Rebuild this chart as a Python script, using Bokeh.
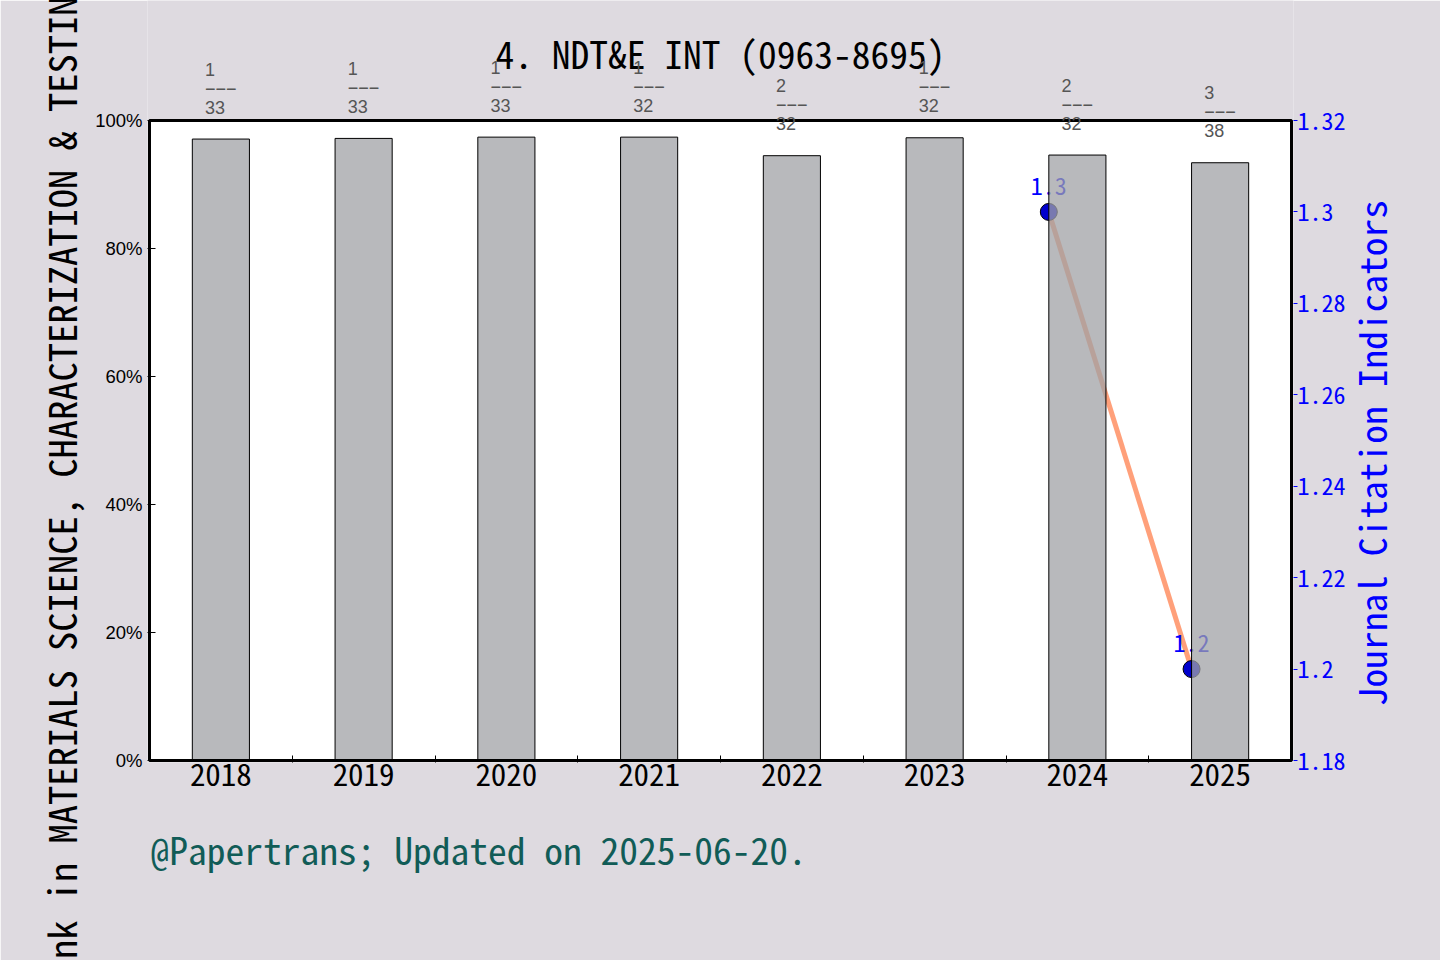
import math
from bokeh.plotting import figure
from bokeh.models import (ColumnDataSource, Range1d, LinearAxis, FixedTicker, Axis, Title,
                          PrintfTickFormatter, CustomJSTickFormatter, LabelSet, Label)
from bokeh.core.properties import value
from bokeh.embed import file_html
from bokeh.resources import INLINE

# ---- data ----
years = ["2018", "2019", "2020", "2021", "2022", "2023", "2024", "2025"]
pct = [97.1, 97.2, 97.4, 97.4, 94.5, 97.3, 94.6, 93.4]
ranks = ["1", "1", "1", "1", "2", "1", "2", "3"]
totals = ["33", "33", "33", "32", "32", "32", "32", "38"]
jci_years = ["2024", "2025"]
jci = [1.3, 1.2]
jci_labels = ["1.3", "1.2"]
pct_ticks = [0, 20, 40, 60, 80, 100]
jci_ticks = [1.18, 1.20, 1.22, 1.24, 1.26, 1.28, 1.30, 1.32]

MONO = "Noto Sans Mono CJK SC"
BG = "#dedae0"
NBSP = "\u00a0"

# ---- geometry (pixels) ----
W, H = 1440, 960
BOX_L, BOX_R, BOX_T, BOX_B = 149, 1291, 120, 760   # white plot box
PAD = 2
px_x = (BOX_R - BOX_L) / len(years)
px_y = (BOX_B - BOX_T) / (pct_ticks[-1] - pct_ticks[0])
jpp = (jci_ticks[-1] - jci_ticks[0]) / (BOX_B - BOX_T)

x_range = Range1d(-PAD / px_x, len(years) + PAD / px_x)
y_range = Range1d(pct_ticks[0] - PAD / px_y, pct_ticks[-1] + BOX_T / px_y)
j_range = Range1d(jci_ticks[0] - PAD * jpp, jci_ticks[-1] + BOX_T * jpp)

xs = [i + 0.5 for i in range(len(years))]
jx = [years.index(y) + 0.5 - 0.2 for y in jci_years]

bar_src = ColumnDataSource(dict(x=xs, top=pct, rank=ranks, total=totals,
                                dash=["\u2212\u2212\u2212"] * len(years)))
jci_src = ColumnDataSource(dict(x=jx, y=jci, label=jci_labels))

p = figure(width=W, height=H, output_backend="svg", toolbar_location=None,
           x_range=x_range, y_range=y_range,
           min_border_left=BOX_L - PAD, min_border_right=W - BOX_R - PAD,
           min_border_top=0, min_border_bottom=H - BOX_B - PAD)
p.border_fill_color = BG
p.background_fill_color = BG
p.outline_line_color = None
p.xgrid.visible = False
p.ygrid.visible = False

# white plot box (fill first, border last)
box = dict(left=0, right=len(years), bottom=pct_ticks[0], top=pct_ticks[-1])
p.quad(**box, fill_color="white", line_color=None)

# x axis
xa = p.xaxis[0]
xa.ticker = FixedTicker(ticks=xs, minor_ticks=[i for i in range(1, len(years))])
xa.major_label_overrides = {x: y for x, y in zip(xs, years)}
xa.major_tick_in = 0
xa.major_tick_out = 0
xa.minor_tick_in = 7
xa.minor_tick_out = 0
xa.minor_tick_line_color = "black"
xa.axis_line_color = None
xa.major_label_text_font = MONO
xa.major_label_text_font_size = "31px"
xa.major_label_text_color = "black"
xa.major_label_standoff = 0

# left axis
ya = p.yaxis[0]
ya.ticker = FixedTicker(ticks=pct_ticks)
ya.formatter = PrintfTickFormatter(format="%d%%")
ya.major_tick_in = 8
ya.major_tick_out = 0
ya.minor_tick_line_color = None
ya.axis_line_color = None
ya.major_label_text_font = "Liberation Sans"
ya.major_label_text_font_size = "18.5px"
ya.major_label_text_color = "black"
ya.major_label_standoff = 5
ya.axis_label = "Rank in MATERIALS SCIENCE, CHARACTERIZATION & TESTING" + NBSP * 11
ya.axis_label_text_font = MONO
ya.axis_label_text_font_size = "38.5px"
ya.axis_label_text_font_style = "normal"
ya.axis_label_text_color = "black"
ya.axis_label_standoff = 4

# right axis
p.extra_y_ranges = {"jci": j_range}
ra = LinearAxis(y_range_name="jci")
ra.ticker = FixedTicker(ticks=jci_ticks)
ra.formatter = CustomJSTickFormatter(code="return String(parseFloat(tick.toFixed(2)));")
ra.major_tick_in = 0
ra.major_tick_out = 4
ra.major_tick_line_color = "blue"
ra.minor_tick_line_color = None
ra.axis_line_color = None
ra.major_label_text_font = MONO
ra.major_label_text_font_size = "24px"
ra.major_label_text_color = "blue"
ra.major_label_standoff = 0
ra.axis_label = NBSP * 3 + "Journal Citation Indicators"
ra.axis_label_text_font = MONO
ra.axis_label_text_font_size = "37.5px"
ra.axis_label_text_font_style = "normal"
ra.axis_label_text_color = "blue"
ra.axis_label_standoff = 22
props = Axis.properties()
if "axis_label_orientation" in props:
    ra.axis_label_orientation = math.pi / 2
if "axis_label_align" in props:
    ra.axis_label_align = "start"
p.add_layout(ra, "right")

# JCI line, points and labels (drawn under the bars)
p.line("x", "y", source=jci_src, y_range_name="jci", line_color="lightsalmon", line_width=5)
p.scatter("x", "y", source=jci_src, y_range_name="jci", size=17,
          fill_color="#0000cd", line_color="black", line_width=1)
p.text("x", "y", text="label", source=jci_src, y_range_name="jci",
       text_align="center", text_baseline="alphabetic", y_offset=-26,
       text_font=value(MONO), text_font_size="24px", text_color="blue")

# bars
p.vbar(x="x", top="top", bottom=0, width=0.4, source=bar_src,
       fill_color="#a0a1a5", fill_alpha=0.75, line_color="black", line_width=1)

# plot box border
p.quad(**box, fill_color=None, line_color="black", line_width=3)

# title (inside the extended frame)
p.add_layout(Label(x=len(years) / 2, y=pct_ticks[-1] + (BOX_T - 52) / px_y,
                   text="4. NDT&E INT (0963-8695)", text_align="center",
                   text_baseline="alphabetic", text_font=MONO, text_font_size="37.5px",
                   text_color="black"))

# rank labels above bars
common = dict(x="x", y="top", source=bar_src, text_align="left", text_baseline="middle",
              x_offset=-16, text_font=value("Liberation Sans"), text_font_size="18px",
              text_color="#555555")
p.add_layout(LabelSet(text="total", y_offset=32, **common))
p.add_layout(LabelSet(text="dash", y_offset=51, **common))
p.add_layout(LabelSet(text="rank", y_offset=70, **common))

# footer
p.add_layout(Title(text="@Papertrans; Updated on 2025-06-20.", align="left", offset=3,
                   text_font=MONO, text_font_size="37.5px", text_font_style="normal",
                   text_color="#115c57", standoff=61), "below")

open("out.html", "w").write(file_html(p, INLINE))
